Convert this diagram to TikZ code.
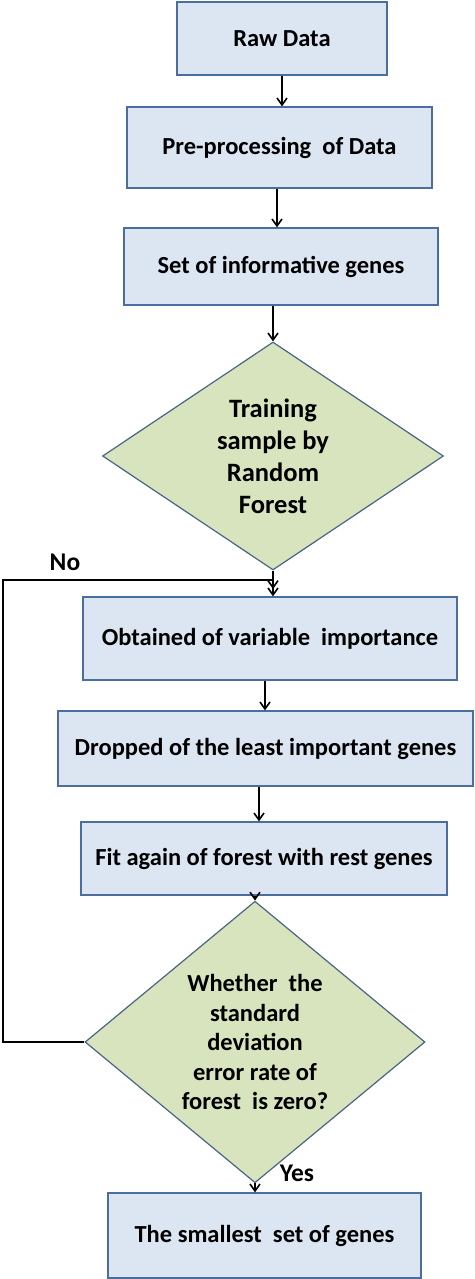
\documentclass[tikz,border=0pt]{standalone}
\usepackage{fontspec}
\setmainfont{Carlito}
\usetikzlibrary{shapes.geometric,arrows.meta}
\definecolor{boxfill}{HTML}{DCE6F2}
\definecolor{boxline}{HTML}{4A6F9F}
\definecolor{dfill}{HTML}{D7E4BD}
\definecolor{dline}{HTML}{4A6485}
\tikzset{
  stepbox/.style={draw=boxline, fill=boxfill, line width=1.3pt, inner sep=0pt,
    font=\fontsize{24.5}{29}\selectfont\bfseries},
  decision/.style={diamond, draw=dline, fill=dfill, line width=1.2pt, inner sep=0pt,
    align=center},
  arr/.style={-{Straight Barb[length=7pt,width=10pt,line width=1.6pt]}, line width=1.6pt, black},
  lbl/.style={font=\fontsize{25.5}{30}\selectfont\bfseries, inner sep=0pt}
}
\begin{document}
\begin{tikzpicture}[x=1pt,y=-1pt]
\useasboundingbox (0,0) rectangle (474,1279);
\node[stepbox, minimum width=210pt, minimum height=73pt] (b1) at (282,38.5) {Raw Data};
\node[stepbox, minimum width=305pt, minimum height=81pt] (b2) at (279.5,147.5) {Pre-processing\ \ of Data};
\node[stepbox, minimum width=314pt, minimum height=77pt] (b3) at (281,266.5) {Set of informative genes};
\node[decision, minimum width=341pt, minimum height=228pt,
  font=\fontsize{26.5}{32}\selectfont\bfseries] (d1) at (273,456) {Training\\sample by\\Random\\Forest};
\node[stepbox, minimum width=374pt, minimum height=83pt] (b4) at (270,638.5) {Obtained of variable\ \ importance};
\node[stepbox, minimum width=415pt, minimum height=75pt] (b5) at (265.5,748.5) {Dropped of the least important genes};
\node[stepbox, minimum width=366pt, minimum height=73pt] (b6) at (264,858.5) {Fit again of forest with rest genes};
\node[decision, minimum width=340pt, minimum height=230pt,
  font=\fontsize{24.5}{29.5}\selectfont\bfseries] (d2) at (255,1042) {Whether\ \ the\\standard\\deviation\\error rate of\\forest\ \ is zero?};
\node[stepbox, minimum width=313pt, minimum height=85pt] (b7) at (264.5,1235.5) {The smallest\ \ set of genes};
\coordinate (lx) at (3,1042);
\coordinate (jn) at (273,580);
\coordinate (jt) at (273,589);
\node[lbl] (no) at (65,562) {No};
\node[lbl] (yes) at (297,1173) {Yes};
\draw[arr] (b1.south) -- (b1.south |- b2.north);
\draw[arr] (b2.south -| 277,0) -- (b3.north -| 277,0);
\draw[arr] (b3.south -| d1.north) -- (d1.north);
\draw[arr] (d1.south) -- (d1.south |- b4.north);
\draw[arr] (b4.south -| 265,0) -- (b5.north -| 265,0);
\draw[arr] (b5.south -| 259,0) -- (b6.north -| 259,0);
\draw[arr] (b6.south -| d2.north) -- (d2.north);
\draw[arr] (d2.south) -- (d2.south |- b7.north);
\draw[line width=1.6pt] (d2.west) -- (lx) |- (jn);
\draw[arr] (jn) -- (jt);
\end{tikzpicture}
\end{document}
